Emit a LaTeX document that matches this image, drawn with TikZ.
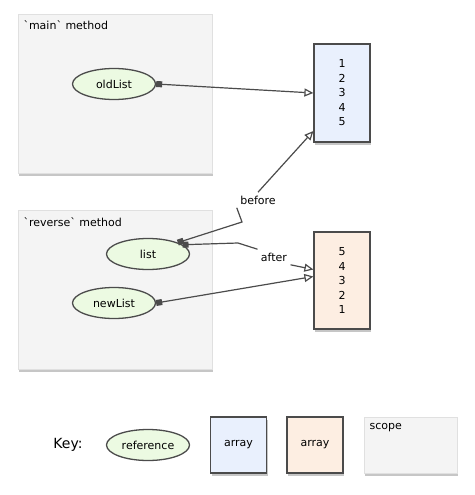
\documentclass[tikz,border=0pt]{standalone}
\usepackage{fontspec}
\setmainfont{DejaVu Sans}
\usepackage{tikz}
\usetikzlibrary{shapes.geometric,arrows.meta,shadows,positioning}

\definecolor{refgreen}{RGB}{236,250,226}
\definecolor{arrblue}{RGB}{233,240,253}
\definecolor{arrorange}{RGB}{253,238,226}
\definecolor{scopegray}{RGB}{244,244,244}
\definecolor{linegray}{RGB}{75,75,75}

\tikzset{
  refnode/.style={ellipse,draw=linegray,fill=refgreen,line width=1.3pt,minimum width=83pt,minimum height=31pt,inner sep=0pt,font=\fontsize{11}{12}\selectfont},
  arrbox/.style={draw=linegray,line width=1.2pt,minimum width=56pt,drop shadow={opacity=0.45,shadow xshift=1pt,shadow yshift=-2.5pt},font=\fontsize{11}{14.5}\selectfont},
  scopebox/.style={draw=black!12,fill=scopegray,drop shadow={opacity=0.45,shadow xshift=1pt,shadow yshift=-2.5pt}},
  lbl/.style={font=\fontsize{11}{12}\selectfont},
  refline/.style={draw=linegray,line width=1.2pt},
  reflink/.style={refline,{Square[length=6pt,width=6pt]}-{Triangle[open,length=9pt,width=8pt]}}
}

\begin{document}
\begin{tikzpicture}[x=1pt,y=-1pt]
\useasboundingbox (0,0) rectangle (474,495);
% scopes
\draw[scopebox] (18,14) rectangle (212,173);
\node[lbl,anchor=west] (mainlbl) at (20,25) {\textasciigrave main\textasciigrave{} method};
\draw[scopebox] (18,210) rectangle (212,369);
\node[lbl,anchor=west] (revlbl) at (20,222) {\textasciigrave reverse\textasciigrave{} method};
% arrays
\node[arrbox,fill=arrblue,minimum height=98pt,align=center] (blue) at (342,93) {1\\2\\3\\4\\5};
\node[arrbox,fill=arrorange,minimum height=97pt,align=center] (orange) at (342,280.5) {5\\4\\3\\2\\1};
% references
\node[refnode] (oldList) at (114,84) {oldList};
\node[refnode] (list) at (148,254) {list};
\node[refnode] (newList) at (114,303) {newList};
\node[lbl] (before) at (258,200) {before};
\node[lbl] (after) at (274,257) {after};
\coordinate (bendb) at (242,222);
\coordinate (benda) at (238,243);
% connectors
\draw[reflink] (oldList.east) -- (blue.west);
\draw[refline,{Square[length=6pt,width=6pt]}-] (list.north east) -- (bendb) -- (before.south west);
\draw[refline,-{Triangle[open,length=9pt,width=8pt]}] (before.north) -- ([yshift=-38pt]blue.west);
\draw[refline,{Square[length=6pt,width=6pt]}-] (list.15) -- (benda) -- (after.north west);
\draw[refline,-{Triangle[open,length=9pt,width=8pt]}] (after.south east) -- ([yshift=11pt]orange.west);
\draw[reflink] (newList.east) -- ([yshift=4pt]orange.west);
% key
\node[font=\fontsize{14}{15}\selectfont] (key) at (68,445) {Key:};
\node[refnode] (keyref) at (148,445) {reference};
\node[arrbox,fill=arrblue,minimum height=56pt] (keyblue) at (238.5,445) {array};
\node[arrbox,fill=arrorange,minimum height=56pt] (keyorange) at (315,445) {array};
\draw[scopebox] (364,417) rectangle (457,473);
\node[lbl,anchor=west] (keyscope) at (366,428) {scope};
\end{tikzpicture}
\end{document}
